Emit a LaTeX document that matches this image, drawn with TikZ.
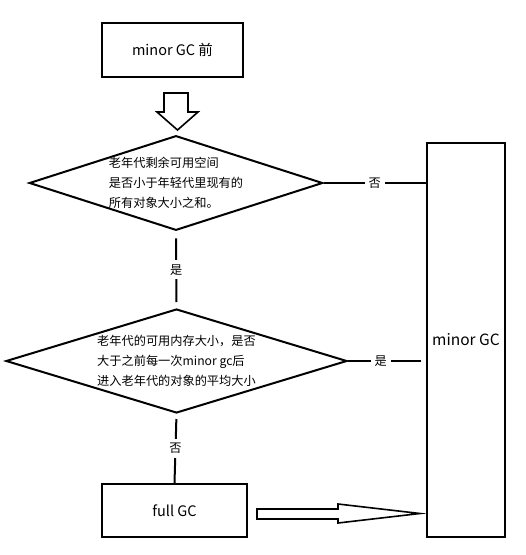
\documentclass[tikz,border=0pt]{standalone}
\usepackage{fontspec}
\setmainfont{Noto Sans CJK SC}
\usetikzlibrary{positioning, shapes.geometric}
\begin{document}
\begin{tikzpicture}[x=1pt,y=-1pt]
	\tikzstyle{block}=[rectangle,draw=black,line width=2.2pt,font=\fontsize{14.5}{17}\selectfont]
	\tikzstyle{cond}=[diamond,draw=black,line width=2pt,inner sep=0pt,align=left,font=\fontsize{12.2}{20}\selectfont]
	\tikzstyle{link}=[line width=2pt]
	\tikzstyle{tag}=[fill=white,inner sep=4pt,font=\fontsize{12.2}{14}\selectfont]
	\tikzstyle{fat}=[draw=black,line width=1.6pt,line join=miter]
	\useasboundingbox (0,0) rectangle (526,555);
	\node[block,minimum width=141pt,minimum height=54pt](pre) at (172.5,50) {minor GC 前};
	\node[cond,aspect=3.1,minimum width=292pt,minimum height=94pt](q1) at (176,183) {老年代剩余可用空间\\是否小于年轻代里现有的\\所有对象大小之和。};
	\node[cond,aspect=3.28,minimum width=341pt,minimum height=104pt](q2) at (176.5,361) {老年代的可用内存大小，是否\\大于之前每一次minor gc后\\进入老年代的对象的平均大小};
	\node[block,minimum width=145pt,minimum height=53pt](full) at (174.5,510.5) {full GC};
	\node[block,minimum width=78pt,minimum height=394pt,font=\fontsize{15.5}{18}\selectfont](minor) at (466,340) {minor GC};
	\draw[fat] (164,93) -- (188,93) -- (188,112) -- (198,112) -- (177.5,130) -- (157,112) -- (164,112) -- cycle;
	\draw[fat] (257,509) -- (338,509) -- (338,504) -- (420,513.5) -- (338,523) -- (338,519) -- (257,519) -- cycle;
	\draw[link] (q1.east) -- node[tag]{否} (q1.east -| minor.west);
	\draw[link,shorten <=7pt,shorten >=6pt] (q1.south) -- node[tag]{是} (q2.north);
	\draw[link,shorten >=5pt] (q2.east) -- node[tag,pos=0.42]{是} (q2.east -| minor.west);
	\draw[link,shorten <=5pt] (q2.south) -- node[tag]{否} (full.north);
\end{tikzpicture}
\end{document}
